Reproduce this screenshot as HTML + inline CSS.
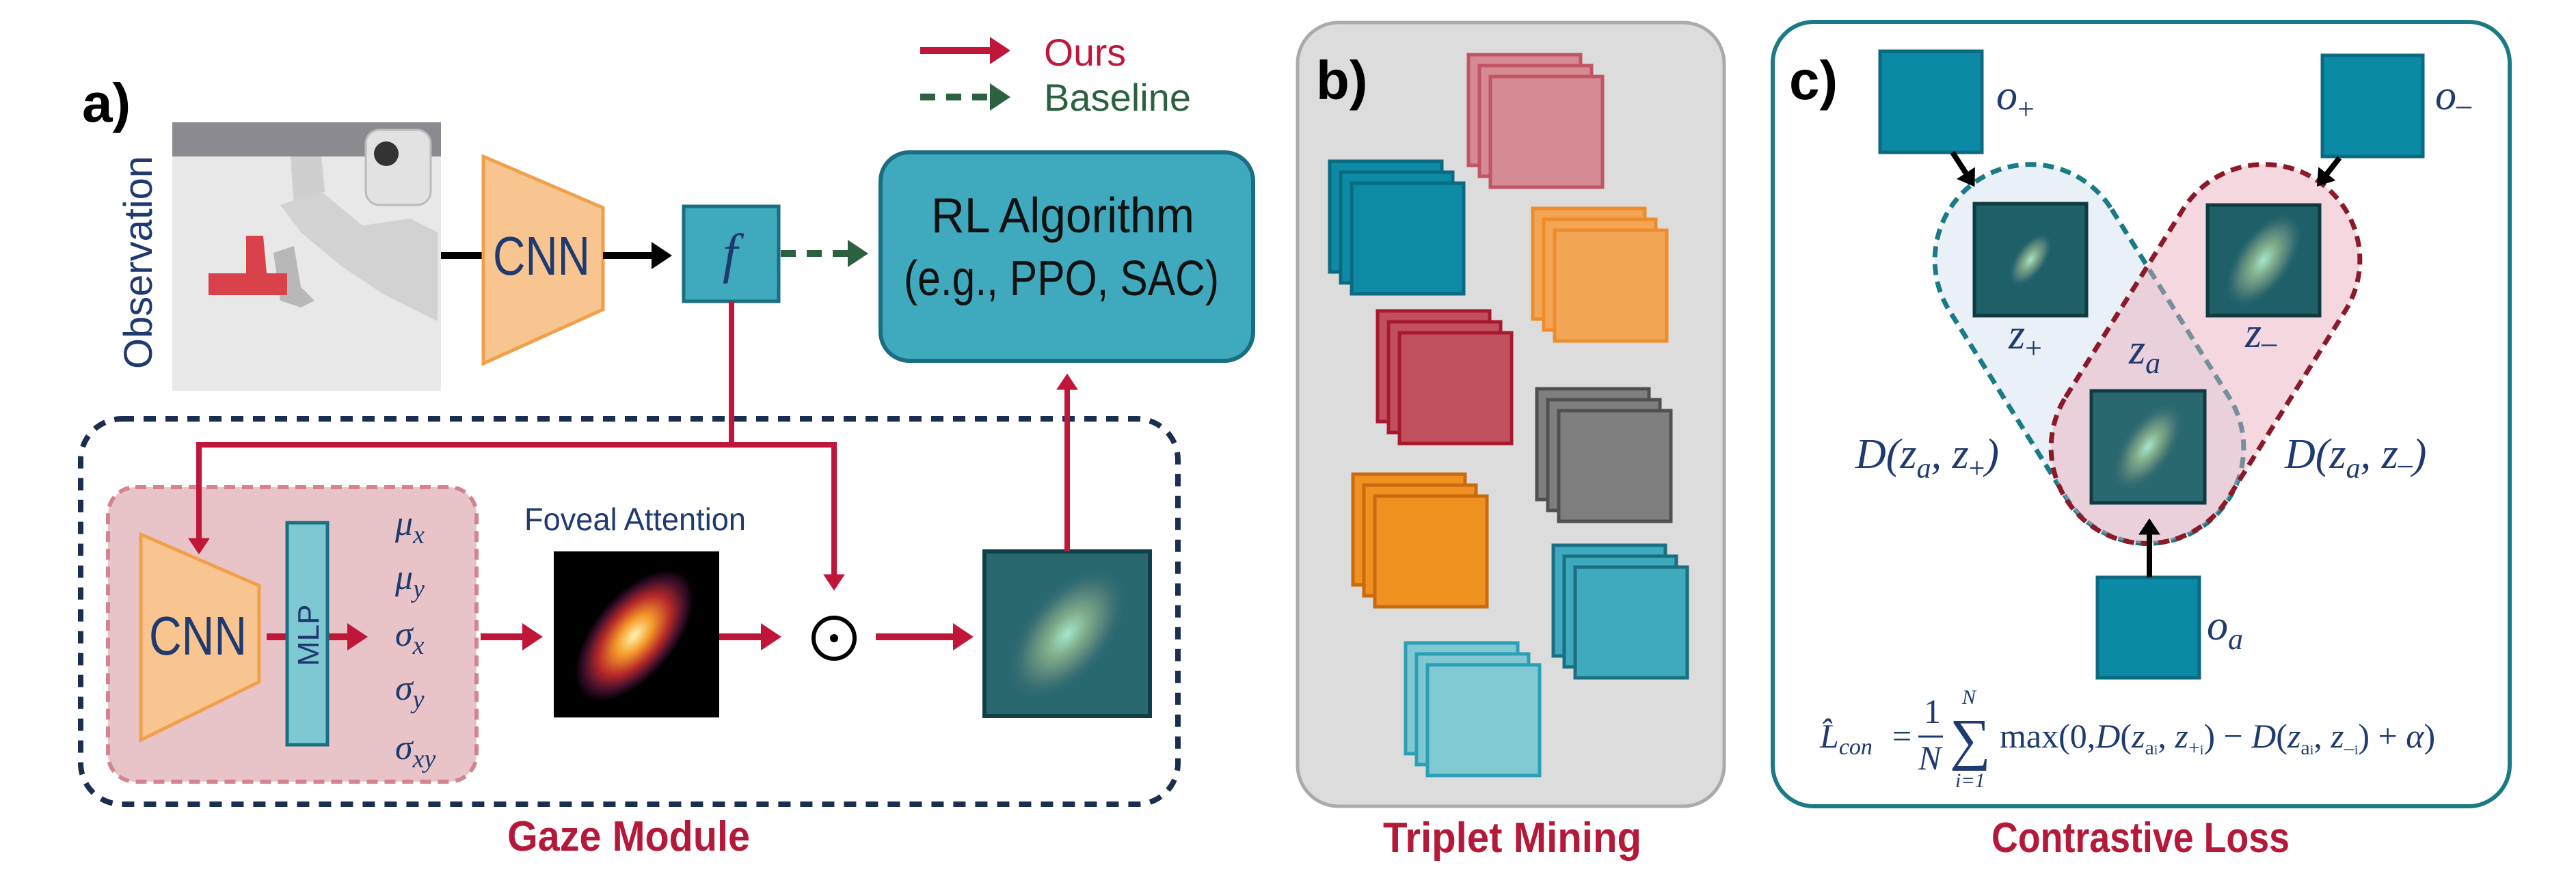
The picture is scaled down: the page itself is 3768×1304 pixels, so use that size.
<!DOCTYPE html>
<html><head><meta charset="utf-8"><style>body{margin:0;background:#fff}svg{display:block}</style></head><body>
<svg width="3768" height="1304" viewBox="0 0 3768 1304" xmlns="http://www.w3.org/2000/svg" font-family="'Liberation Sans',sans-serif">
<defs>
<marker id="ar" markerWidth="4" markerHeight="4" refX="2.2" refY="2" orient="auto" markerUnits="strokeWidth"><path d="M0,0 L3,2 L0,4z" fill="#c0163a"/></marker>
<marker id="ak" markerWidth="4" markerHeight="4" refX="2.2" refY="2" orient="auto" markerUnits="strokeWidth"><path d="M0,0 L3,2 L0,4z" fill="#000"/></marker>
<marker id="ag" markerWidth="4" markerHeight="4" refX="2.2" refY="2" orient="auto" markerUnits="strokeWidth"><path d="M0,0 L3,2 L0,4z" fill="#2b6140"/></marker>
<radialGradient id="heat" cx="0.5" cy="0.5" r="0.5"><stop offset="0" stop-color="#fff6b0"/><stop offset="0.3" stop-color="#f59a2a"/><stop offset="0.6" stop-color="#b82a2a"/><stop offset="0.85" stop-color="#3a0e2a"/><stop offset="1" stop-color="#000"/></radialGradient>
<radialGradient id="feat" cx="0.5" cy="0.5" r="0.5"><stop offset="0" stop-color="#a6e6cc"/><stop offset="0.35" stop-color="#7eaa88"/><stop offset="0.7" stop-color="#4a7a78"/><stop offset="1" stop-color="#2a6870" stop-opacity="0"/></radialGradient>
</defs>

<!-- panel a -->
<text x="120" y="178" font-size="80" font-weight="bold">a)</text>
<line x1="1346" y1="74" x2="1470" y2="74" stroke="#c0163a" stroke-width="10" marker-end="url(#ar)"/>
<text x="1527" y="96" font-size="56" fill="#c0163a" textLength="120" lengthAdjust="spacingAndGlyphs">Ours</text>
<line x1="1346" y1="142" x2="1470" y2="142" stroke="#2b6140" stroke-width="10" stroke-dasharray="22,16" marker-end="url(#ag)"/>
<text x="1527" y="162" font-size="56" fill="#2b6140" textLength="215" lengthAdjust="spacingAndGlyphs">Baseline</text>

<!-- observation -->
<rect x="252" y="179" width="393" height="393" fill="#e8e8e8"/>
<rect x="252" y="179" width="393" height="50" fill="#8a8a90"/>
<path d="M425 229 L470 229 L475 280 L430 300z" fill="#cfcfcf"/>
<path d="M410 300 L470 280 L530 330 L600 320 L640 340 L640 470 L560 430 L500 390 L440 340z" fill="#d2d2d2"/>
<rect x="535" y="190" width="95" height="110" rx="20" fill="#e2e2e2" stroke="#bbb" stroke-width="3"/>
<circle cx="565" cy="225" r="18" fill="#333"/>
<path d="M400 370 L430 360 L440 420 L460 440 L440 450 L410 440z" fill="#b8b8b8"/>
<path d="M360 345 L385 345 L390 400 L420 400 L420 432 L305 432 L305 400 L360 400z" fill="#d9424a"/>
<text transform="translate(222,540) rotate(-90)" font-size="58" fill="#1f3a6e" textLength="312" lengthAdjust="spacingAndGlyphs">Observation</text>

<line x1="645" y1="374" x2="707" y2="374" stroke="#000" stroke-width="10"/>
<polygon points="707,229 882,304 882,453 707,532" fill="#f8c591" stroke="#f0a04b" stroke-width="5"/>
<text x="721" y="402" font-size="80" fill="#1f3a6e" textLength="142" lengthAdjust="spacingAndGlyphs">CNN</text>
<line x1="882" y1="374" x2="975" y2="374" stroke="#000" stroke-width="10" marker-end="url(#ak)"/>
<rect x="1000" y="302" width="139" height="139" fill="#3fa9be" stroke="#1a6e7f" stroke-width="5"/>
<text x="1068" y="398" font-size="80" fill="#1f3a6e" text-anchor="middle" font-style="italic" font-family="'Liberation Serif',serif">f</text>
<line x1="1142" y1="371" x2="1262" y2="371" stroke="#2b6140" stroke-width="10" stroke-dasharray="22,16" marker-end="url(#ag)"/>
<rect x="1288" y="223" width="545" height="305" rx="42" fill="#3fa9be" stroke="#1a6e7f" stroke-width="6"/>
<text x="1362" y="340" font-size="72" fill="#111" textLength="385" lengthAdjust="spacingAndGlyphs">RL Algorithm</text>
<text x="1322" y="432" font-size="72" fill="#111" textLength="461" lengthAdjust="spacingAndGlyphs">(e.g., PPO, SAC)</text>

<!-- gaze module -->
<rect x="118" y="613" width="1605" height="564" rx="60" fill="none" stroke="#1a2e50" stroke-width="8" stroke-dasharray="18,14"/>
<rect x="158" y="713" width="539" height="431" rx="40" fill="#e8c4c8" stroke="#d4848f" stroke-width="6" stroke-dasharray="16,10"/>
<polyline points="1070,441 1070,651 291,651 291,805" fill="none" stroke="#c0163a" stroke-width="8" marker-end="url(#ar)"/>
<polyline points="1070,651 1220,651 1220,858" fill="none" stroke="#c0163a" stroke-width="8" marker-end="url(#ar)"/>
<polygon points="206,782 379,857 379,998 206,1083" fill="#f8c591" stroke="#f0a04b" stroke-width="5"/>
<text x="218" y="958" font-size="80" fill="#1f3a6e" textLength="143" lengthAdjust="spacingAndGlyphs">CNN</text>
<line x1="390" y1="932" x2="530" y2="932" stroke="#c0163a" stroke-width="10" marker-end="url(#ar)"/>
<rect x="420" y="765" width="59" height="325" fill="#7ec8d3" stroke="#1a7080" stroke-width="5"/>
<text transform="translate(466,975) rotate(-90)" font-size="44" fill="#1f3a6e">MLP</text>
<g font-family="'Liberation Serif',serif" font-style="italic" font-size="52" fill="#1f3a6e">
<text x="578" y="783">μ<tspan font-size="38" dy="12">x</tspan></text>
<text x="578" y="862">μ<tspan font-size="38" dy="12">y</tspan></text>
<text x="578" y="945">σ<tspan font-size="38" dy="12">x</tspan></text>
<text x="578" y="1024">σ<tspan font-size="38" dy="12">y</tspan></text>
<text x="578" y="1111">σ<tspan font-size="38" dy="12">xy</tspan></text>
</g>
<line x1="703" y1="932" x2="786" y2="932" stroke="#c0163a" stroke-width="10" marker-end="url(#ar)"/>
<text x="767" y="776" font-size="46" fill="#1f3a6e" textLength="324" lengthAdjust="spacingAndGlyphs">Foveal Attention</text>
<rect x="810" y="807" width="242" height="243" fill="#000"/>
<ellipse cx="928" cy="930" rx="115" ry="60" transform="rotate(-50 928 930)" fill="url(#heat)"/>
<line x1="1052" y1="932" x2="1135" y2="932" stroke="#c0163a" stroke-width="10" marker-end="url(#ar)"/>
<circle cx="1220" cy="934" r="30" fill="none" stroke="#000" stroke-width="6"/>
<circle cx="1220" cy="934" r="6" fill="#000"/>
<line x1="1281" y1="932" x2="1416" y2="932" stroke="#c0163a" stroke-width="10" marker-end="url(#ar)"/>
<rect x="1440" y="807" width="242" height="241" fill="#2a6870" stroke="#0f4048" stroke-width="6"/>
<ellipse cx="1561" cy="928" rx="115" ry="62" transform="rotate(-50 1561 928)" fill="url(#feat)"/>
<line x1="1561" y1="807" x2="1561" y2="553" stroke="#c0163a" stroke-width="8" marker-end="url(#ar)"/>
<text x="742" y="1245" font-size="62" font-weight="bold" fill="#b5193a" textLength="355" lengthAdjust="spacingAndGlyphs">Gaze Module</text>

<!-- panel b -->
<rect x="1898" y="33" width="624" height="1147" rx="60" fill="#dcdcdc" stroke="#aaa" stroke-width="5"/>
<text x="1925" y="145" font-size="80" font-weight="bold">b)</text>
<g stroke-width="5">
<g fill="#d68a93" stroke="#c05565"><rect x="2148" y="80" width="164" height="162"/><rect x="2164" y="96" width="164" height="162"/><rect x="2180" y="112" width="164" height="162"/></g>
<g fill="#0d8aa5" stroke="#0a6a80"><rect x="1945" y="236" width="164" height="162"/><rect x="1961" y="252" width="164" height="162"/><rect x="1977" y="268" width="164" height="162"/></g>
<g fill="#f2a555" stroke="#ef8c2a"><rect x="2242" y="305" width="164" height="162"/><rect x="2258" y="321" width="164" height="162"/><rect x="2274" y="337" width="164" height="162"/></g>
<g fill="#c0505e" stroke="#a8182e"><rect x="2015" y="455" width="164" height="162"/><rect x="2031" y="471" width="164" height="162"/><rect x="2047" y="487" width="164" height="162"/></g>
<g fill="#7f7f7f" stroke="#505050"><rect x="2248" y="569" width="164" height="162"/><rect x="2264" y="585" width="164" height="162"/><rect x="2280" y="601" width="164" height="162"/></g>
<g fill="#f0901f" stroke="#c86a10"><rect x="1979" y="694" width="164" height="162"/><rect x="1995" y="710" width="164" height="162"/><rect x="2011" y="726" width="164" height="162"/></g>
<g fill="#3fa9be" stroke="#1a7080"><rect x="2272" y="798" width="164" height="162"/><rect x="2288" y="814" width="164" height="162"/><rect x="2304" y="830" width="164" height="162"/></g>
<g fill="#80c8d2" stroke="#2aa0b5"><rect x="2056" y="941" width="164" height="162"/><rect x="2072" y="957" width="164" height="162"/><rect x="2088" y="973" width="164" height="162"/></g>
</g>
<text x="2023" y="1247" font-size="62" font-weight="bold" fill="#b5193a" textLength="378" lengthAdjust="spacingAndGlyphs">Triplet Mining</text>

<!-- panel c -->
<rect x="2593" y="32" width="1078" height="1148" rx="60" fill="#fff" stroke="#1a7a85" stroke-width="6"/>
<text x="2617" y="145" font-size="80" font-weight="bold">c)</text>
<g transform="rotate(58 3056 518)"><rect x="2754" y="378" width="604" height="280" rx="140" fill="#eaf0f8" stroke="#1a7a85" stroke-width="7" stroke-dasharray="16,10"/></g>
<g transform="rotate(-58 3226 518)"><rect x="2924" y="378" width="604" height="280" rx="140" fill="#e8a8b8" fill-opacity="0.45" stroke="#8a1a2a" stroke-width="7" stroke-dasharray="16,10"/></g>
<rect x="2750" y="75" width="149" height="148" fill="#0a8aa5" stroke="#0c6a80" stroke-width="5"/>
<rect x="3397" y="81" width="147" height="148" fill="#0a8aa5" stroke="#0c6a80" stroke-width="5"/>
<rect x="3068" y="845" width="149" height="147" fill="#0a8aa5" stroke="#0c6a80" stroke-width="5"/>
<rect x="2888" y="298" width="164" height="164" fill="#1e5f68" stroke="#0f3a40" stroke-width="5"/>
<ellipse cx="2970" cy="380" rx="45" ry="22" transform="rotate(-55 2970 380)" fill="url(#feat)"/>
<rect x="3229" y="300" width="164" height="162" fill="#1e5f68" stroke="#0f3a40" stroke-width="5"/>
<ellipse cx="3311" cy="381" rx="80" ry="40" transform="rotate(-55 3311 381)" fill="url(#feat)"/>
<rect x="3059" y="572" width="166" height="164" fill="#2a6870" stroke="#0f3a40" stroke-width="5"/>
<ellipse cx="3142" cy="654" rx="75" ry="36" transform="rotate(-55 3142 654)" fill="url(#feat)"/>
<line x1="2856" y1="223" x2="2885" y2="268" stroke="#000" stroke-width="8" marker-end="url(#ak)"/>
<line x1="3422" y1="231" x2="3393" y2="268" stroke="#000" stroke-width="8" marker-end="url(#ak)"/>
<line x1="3144" y1="845" x2="3144" y2="765" stroke="#000" stroke-width="8" marker-end="url(#ak)"/>
<g font-family="'Liberation Serif',serif" font-style="italic" font-size="62" fill="#1f3a6e">
<text x="2920" y="160">o<tspan font-size="44" dy="14" font-style="normal">+</tspan></text>
<text x="3562" y="160">o<tspan font-size="44" dy="8" font-style="normal">–</tspan></text>
<text x="3228" y="936">o<tspan font-size="44" dy="14">a</tspan></text>
<text x="2938" y="510">z<tspan font-size="44" dy="14" font-style="normal">+</tspan></text>
<text x="3284" y="508">z<tspan font-size="44" dy="8" font-style="normal">–</tspan></text>
<text x="3114" y="532">z<tspan font-size="44" dy="14">a</tspan></text>
<text x="2714" y="685">D(z<tspan font-size="42" dy="14">a</tspan><tspan dy="-14">, z</tspan><tspan font-size="42" dy="14" font-style="normal">+</tspan><tspan dy="-14">)</tspan></text>
<text x="3342" y="685">D(z<tspan font-size="42" dy="14">a</tspan><tspan dy="-14">, z</tspan><tspan font-size="42" dy="8" font-style="normal">–</tspan><tspan dy="-8">)</tspan></text>
</g>
<g font-family="'Liberation Serif',serif" font-size="50" fill="#1f3a6e">
<text x="2662" y="1094" font-style="italic">L̂<tspan font-size="34" dy="10">con</tspan></text>
<text x="2768" y="1094">=</text>
<text x="2814" y="1058">1</text>
<line x1="2806" y1="1078" x2="2842" y2="1078" stroke="#1f3a6e" stroke-width="3"/>
<text x="2806" y="1126" font-style="italic">N</text>
<text x="2852" y="1110" font-size="84">∑</text>
<text x="2870" y="1030" font-size="30" font-style="italic">N</text>
<text x="2860" y="1152" font-size="30" font-style="italic">i=1</text>
<text x="2925" y="1094">max(0,<tspan font-style="italic">D</tspan>(<tspan font-style="italic">z</tspan><tspan font-size="30" dy="10">a<tspan font-size="20">i</tspan></tspan><tspan dy="-10">, </tspan><tspan font-style="italic">z</tspan><tspan font-size="30" dy="10">+<tspan font-size="20">i</tspan></tspan><tspan dy="-10">) − </tspan><tspan font-style="italic">D</tspan>(<tspan font-style="italic">z</tspan><tspan font-size="30" dy="10">a<tspan font-size="20">i</tspan></tspan><tspan dy="-10">, </tspan><tspan font-style="italic">z</tspan><tspan font-size="30" dy="10">–<tspan font-size="20">i</tspan></tspan><tspan dy="-10">) + </tspan><tspan font-style="italic">α</tspan>)</text>
</g>
<text x="2913" y="1247" font-size="62" font-weight="bold" fill="#b5193a" textLength="436" lengthAdjust="spacingAndGlyphs">Contrastive Loss</text>
</svg>
</body></html>
